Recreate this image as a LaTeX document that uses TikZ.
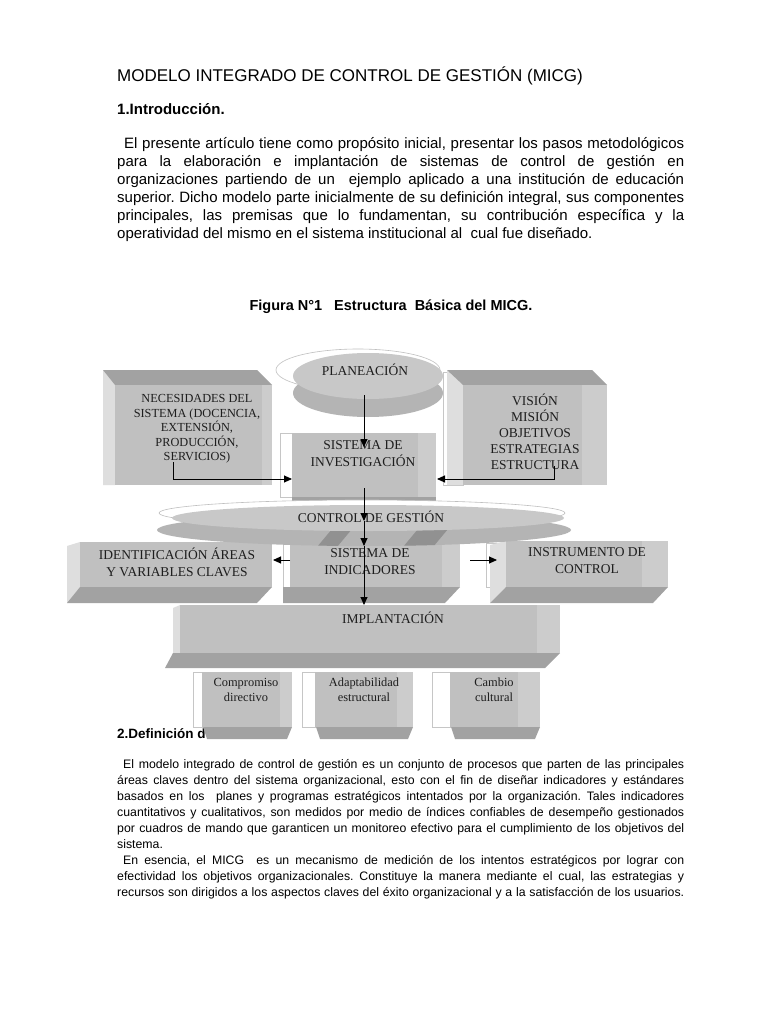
\documentclass[tikz,border=0pt]{standalone}
\usepackage{fontspec}
\setmainfont{Liberation Sans}
\newfontfamily\tnr{Liberation Serif}
\usetikzlibrary{arrows.meta}
\definecolor{faceG}{RGB}{192,192,192}
\definecolor{darkG}{RGB}{162,162,162}
\definecolor{lightG}{RGB}{222,222,222}
\definecolor{rimG}{RGB}{204,204,204}
\definecolor{discTop}{RGB}{200,200,200}
\definecolor{discSide}{RGB}{180,180,180}
\definecolor{stripeG}{RGB}{145,145,145}
\definecolor{txtG}{RGB}{30,30,30}
\tikzset{
  title/.style={anchor=base west, inner sep=0pt, font=\fontsize{17}{20}\selectfont},
  head/.style={anchor=base west, inner sep=0pt, font=\bfseries\fontsize{15}{18}\selectfont},
  body/.style={anchor=base west, inner sep=0pt, font=\fontsize{15}{18}\selectfont},
  foot/.style={anchor=base west, inner sep=0pt, font=\fontsize{12.3}{16}\selectfont},
  lbl/.style={align=center, inner sep=0pt, text=txtG, font=\tnr\fontsize{13.5}{17}\selectfont},
  conn/.style={->, line width=0.9pt},
  strip/.style={draw=gray!45, fill=white, line width=0.6pt}
}
\frenchspacing
\begin{document}
\begin{tikzpicture}[x=1pt,y=-1pt,>={Triangle[length=8pt,width=7pt]}]
  \fill[white] (0,0) rectangle (768,1024);
  \useasboundingbox (0,0) rectangle (768,1024);
  % titulo e introduccion
  \node[title] (tit) at (117,82) {MODELO INTEGRADO DE CONTROL DE GESTIÓN (MICG)};
  \node[head] (intro) at (117,115) {1.Introducción.};
  \node[body] (t1) at (124,149) {\makebox[560pt][s]{El presente artículo tiene como propósito inicial, presentar los pasos metodológicos}};
  \node[body] (t2) at (117,166.8) {\makebox[567pt][s]{para la elaboración e implantación de sistemas de control de gestión en}};
  \node[body] (t3) at (117,184.6) {\makebox[567pt][s]{organizaciones partiendo de un\ \ ejemplo aplicado a una institución de educación}};
  \node[body] (t4) at (117,202.4) {\makebox[567pt][s]{superior. Dicho modelo parte inicialmente de su definición integral, sus componentes}};
  \node[body] (t5) at (117,220.2) {\makebox[567pt][s]{principales, las premisas que lo fundamentan, su contribución específica y la}};
  \node[body] (t6) at (117,238) {operatividad del mismo en el sistema institucional al\ \ cual fue diseñado.};
  \node[anchor=base, inner sep=0pt, font=\bfseries\fontsize{14.5}{17}\selectfont] (fig) at (391,310)
    {Figura N°1\hspace{12pt}Estructura\hspace{8pt}Básica del MICG.};

  % PLANEACION (disco)
  \draw[gray!50, fill=white, line width=0.6pt] (358,370) ellipse [x radius=82pt, y radius=21pt];
  \fill[discSide] (368,393) ellipse [x radius=75pt, y radius=24pt];
  \fill[discTop] (368,376) ellipse [x radius=75pt, y radius=23pt];

  % NECESIDADES
  \fill[lightG] (103,370) -- (115,385) -- (115,485) -- (103,485) -- cycle;
  \fill[darkG] (103,370) -- (257,370) -- (272,385) -- (115,385) -- cycle;
  \fill[faceG] (115,385) rectangle (262,485);
  \fill[rimG] (262,385) rectangle (272,485);

  % VISION
  \draw[strip] (443,372) rectangle (463,485);
  \fill[lightG] (447,370) -- (463,385) -- (463,485) -- (447,485) -- cycle;
  \fill[darkG] (447,370) -- (592,370) -- (607,385) -- (463,385) -- cycle;
  \fill[faceG] (463,385) rectangle (582,485);
  \fill[rimG] (582,385) rectangle (607,485);

  % SISTEMA DE INVESTIGACION
  \draw[strip] (280,433) rectangle (292,497);
  \fill[faceG] (292,433) rectangle (418,497);
  \fill[rimG] (418,433) rectangle (436,497);
  \fill[darkG] (292,497) rectangle (436,501);

  % IDENTIFICACION
  \fill[lightG] (67,546) -- (80,542) -- (80,587) -- (67,603) -- cycle;
  \fill[faceG] (80,542) rectangle (272,587);
  \fill[darkG] (80,587) -- (272,587) -- (257,603) -- (67,603) -- cycle;

  % SISTEMA DE INDICADORES
  \draw[strip] (283,542) rectangle (290,587);
  \fill[faceG] (290,542) rectangle (442,587);
  \fill[rimG] (442,542) rectangle (460,587);
  \fill[darkG] (283,587) -- (460,587) -- (445,603) -- (283,603) -- cycle;

  % INSTRUMENTO
  \draw[strip] (486,543) rectangle (506,587);
  \fill[lightG] (490,545) -- (506,541) -- (506,587) -- (490,603) -- cycle;
  \fill[faceG] (506,541) rectangle (642,587);
  \fill[rimG] (642,541) rectangle (668,587);
  \fill[darkG] (506,587) -- (668,587) -- (653,603) -- (490,603) -- cycle;

  % CONTROL DE GESTION (disco)
  \draw[gray!50, fill=white, line width=0.6pt] (362,513) ellipse [x radius=203pt, y radius=13pt];
  \fill[discSide] (364,530) ellipse [x radius=207pt, y radius=16pt];
  \begin{scope}
    \clip (364,530) ellipse [x radius=207pt, y radius=16pt];
    \fill[stripeG] (317,547) -- (332,529) -- (352,529) -- (337,547) -- cycle;
    \fill[stripeG] (403,547) -- (418,529) -- (448,529) -- (433,547) -- cycle;
  \end{scope}
  \fill[discTop] (368,518) ellipse [x radius=196pt, y radius=13pt];

  % IMPLANTACION
  \fill[lightG] (173,608) -- (180,605) -- (180,653) -- (173,653) -- cycle;
  \fill[faceG] (180,605) rectangle (537,653);
  \fill[rimG] (537,605) rectangle (560,653);
  \fill[darkG] (173,653) -- (560,653) -- (545,668) -- (165,668) -- cycle;

  % 2. Definicion (tapado por las cajas)
  \node[anchor=base west, inner sep=0pt, font=\bfseries\fontsize{13.5}{16}\selectfont] (defi) at (117,738) {2.Definición d};

  % cajas pequenas
  \foreach \a/\b/\c/\d in {193/202/280/292, 302/315/397/413, 432/450/518/540}{
    \draw[strip] (\a,672) rectangle (\b,727);
    \fill[faceG] (\b,672) rectangle (\c,727);
    \fill[rimG] (\c,672) rectangle (\d,727);
    \fill[darkG] ({\b+1},727) -- (\d,727) -- ({\d-5},739) -- ({\b+5},739) -- cycle;
  }

  % textos del diagrama
  \node[lbl] (pla) at (365,370) {PLANEACIÓN};
  \node[lbl, font=\tnr\fontsize{12.3}{14.5}\selectfont] (nec) at (197,429)
    {NECESIDADES DEL\\SISTEMA (DOCENCIA,\\EXTENSIÓN,\\PRODUCCIÓN,\\SERVICIOS)};
  \node[lbl, font=\tnr\fontsize{13.5}{16}\selectfont] (vis) at (535,432)
    {VISIÓN\\MISIÓN\\OBJETIVOS\\ESTRATEGIAS\\ESTRUCTURA};
  \node[lbl] (inv) at (363,454) {SISTEMA DE\\INVESTIGACIÓN};
  \node[lbl] (ctl) at (371,517) {CONTROL DE GESTIÓN};
  \node[lbl] (ide) at (177,562) {IDENTIFICACIÓN ÁREAS\\Y VARIABLES CLAVES};
  \node[lbl] (ind) at (370,562) {SISTEMA DE\\INDICADORES};
  \node[lbl] (ins) at (587,561) {INSTRUMENTO DE\\CONTROL};
  \node[lbl] (imp) at (393,618) {IMPLANTACIÓN};
  \node[lbl, font=\tnr\fontsize{12.4}{15}\selectfont] (com) at (246,690) {Compromiso\\directivo};
  \node[lbl, font=\tnr\fontsize{12.4}{15}\selectfont] (ada) at (364,690) {Adaptabilidad\\estructural};
  \node[lbl, font=\tnr\fontsize{12.4}{15}\selectfont] (cam) at (494,690) {Cambio\\cultural};

  % flechas
  \coordinate (pla-a) at (364,395);
  \coordinate (inv-a) at (364,447);
  \coordinate (nec-a) at (173,462);
  \coordinate (inv-l) at (292,479);
  \coordinate (vis-a) at (554,466);
  \coordinate (inv-r) at (437,479);
  \coordinate (inv-b) at (364,488);
  \coordinate (ctl-a) at (364,521);
  \coordinate (ind-a) at (364,546);
  \coordinate (imp-a) at (364,605);
  \coordinate (ind-l) at (290,560);
  \coordinate (ide-r) at (273,560);
  \coordinate (ind-r) at (470,560);
  \coordinate (ins-l) at (497,560);
  \draw[conn] (pla-a) -- (inv-a);
  \draw[conn] (nec-a) |- (inv-l);
  \draw[conn] (vis-a) |- (inv-r);
  \draw[conn] (inv-b) -- (ctl-a);
  \draw[conn] (ctl-a) -- (ind-a);
  \draw[conn] (ind-a) -- (imp-a);
  \draw[conn] (ind-l) -- (ide-r);
  \draw[conn] (ind-r) -- (ins-l);

  % texto final
  \node[foot] (d1) at (123,768) {\makebox[561pt][s]{El modelo integrado de control de gestión es un conjunto de procesos que parten de las principales}};
  \node[foot] (d2) at (117,784) {\makebox[567pt][s]{áreas claves dentro del sistema organizacional, esto con el fin de diseñar indicadores y estándares}};
  \node[foot] (d3) at (117,800) {\makebox[567pt][s]{basados en los\ \ planes y programas estratégicos intentados por la organización. Tales indicadores}};
  \node[foot] (d4) at (117,816) {\makebox[567pt][s]{cuantitativos y cualitativos, son medidos por medio de índices confiables de desempeño gestionados}};
  \node[foot] (d5) at (117,832) {\makebox[567pt][s]{por cuadros de mando que garanticen un monitoreo efectivo para el cumplimiento de los objetivos del}};
  \node[foot] (d6) at (117,848) {sistema.};
  \node[foot] (d7) at (123,864) {\makebox[561pt][s]{En esencia, el MICG\ \ es un mecanismo de medición de los intentos estratégicos por lograr con}};
  \node[foot] (d8) at (117,880) {\makebox[567pt][s]{efectividad los objetivos organizacionales. Constituye la manera mediante el cual, las estrategias y}};
  \node[foot] (d9) at (117,896) {\makebox[567pt][s]{recursos son dirigidos a los aspectos claves del éxito organizacional y a la satisfacción de los usuarios.}};
\end{tikzpicture}
\end{document}
